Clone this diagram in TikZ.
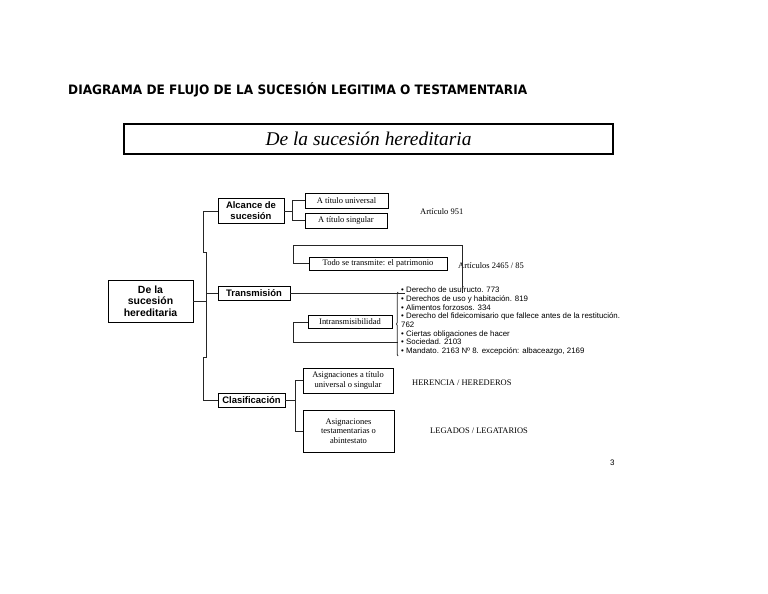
\documentclass[tikz,border=0pt]{standalone}
\usepackage{graphicx}
\usepackage{fontspec}
\setmainfont{Liberation Serif}
\setsansfont{Liberation Sans}
\newfontfamily\headfont{DejaVu Sans}
\usetikzlibrary{decorations.pathreplacing}

\tikzset{
 box/.style={draw,line width=0.9pt,inner sep=1pt,align=center},
 bbox/.style={box,font=\sffamily\bfseries\fontsize{9.5}{11}\selectfont},
 sbox/.style={box,font=\fontsize{8.5}{9.5}\selectfont},
 link/.style={line width=0.8pt,black!85},
 note/.style={anchor=west,inner sep=0pt,font=\fontsize{8.5}{10}\selectfont},
}

\begin{document}
\begin{tikzpicture}[x=1bp,y=-1bp]
 \useasboundingbox (0,0) rectangle (768,594);
 % titles
 \node[anchor=west,inner sep=0pt] (title) at (68,90) {\headfont\bfseries\fontsize{13}{15}\selectfont\resizebox{459bp}{\height}{DIAGRAMA DE FLUJO DE LA SUCESIÓN LEGITIMA O TESTAMENTARIA}};
 \node[draw,line width=2.6bp,minimum width=489bp,minimum height=30bp,inner sep=0pt,font=\itshape\fontsize{19.5}{21}\selectfont] (head) at (368.5,139) {De la sucesión hereditaria};
 % first and second level
 \node[bbox,minimum width=85bp,minimum height=42bp,font=\sffamily\bfseries\fontsize{10.5}{11.5}\selectfont] (root) at (150.5,301) {De la\\sucesión\\hereditaria};
 \node[bbox,minimum width=66bp,minimum height=25bp] (alcance) at (251,211) {Alcance de\\sucesión};
 \node[bbox,minimum width=72bp,minimum height=14bp] (transm) at (254,293) {Transmisión};
 \node[bbox,minimum width=67bp,minimum height=14bp] (clasif) at (251.5,400) {Clasificación};
 % third level
 \node[sbox,minimum width=83bp,minimum height=15bp] (univ) at (346.5,200.5) {A título universal};
 \node[sbox,minimum width=82bp,minimum height=15bp] (sing) at (346,220.5) {A título singular};
 \node[sbox,minimum width=138bp,minimum height=13bp] (todo) at (378,263.5) {Todo se transmite: el patrimonio};
 \node[sbox,minimum width=84bp,minimum height=13bp] (intrans) at (350,322) {Intransmisibilidad};
 \node[sbox,minimum width=90bp,minimum height=25bp] (asigU) at (348,380.5) {Asignaciones a título\\universal o singular};
 \node[sbox,minimum width=91bp,minimum height=42bp] (asigT) at (348.5,431) {Asignaciones\\testamentarias o\\abintestato};
 % notes
 \node[note] (art951) at (420,212) {Artículo 951};
 \node[note] (art2465) at (458,266) {Artículos 2465 / 85};
 \node[note] (heren) at (412,383) {HERENCIA / HEREDEROS};
 \node[note] (legad) at (430,431) {LEGADOS / LEGATARIOS};
 \node[anchor=north west,inner sep=0pt,align=left,font=\sffamily\fontsize{7.9}{8.7}\selectfont] (lista) at (401,287) {%
  • Derecho de usufructo. 773\\
  • Derechos de uso y habitación. 819\\
  • Alimentos forzosos. 334\\
  • Derecho del fideicomisario que fallece antes de la restitución.\\
  762\\
  • Ciertas obligaciones de hacer\\
  • Sociedad. 2103\\
  • Mandato. 2163 Nº 8. excepción: albaceazgo, 2169};
 \node[note,font=\sffamily\fontsize{8}{9}\selectfont] (pagina) at (610,463) {3};
 % trunk
 \draw[link] (alcance.west) -- (203,211) -- (203,252) -- (206,252) -- (206,357) -- (203,357) |- (clasif.west);
 \draw[link] (root.east) -- ++(13,0);
 \draw[link] (transm.west) -- ++(-12,0);
 \draw[link] (transm.east) -- ++(115,0);
 % branches
 \draw[link] (alcance.east) -- ++(8,0) coordinate (af);
 \draw[link] (univ.west) -| (af) |- (sing.west);
 \draw[link] (clasif.east) -- ++(10,0) coordinate (cf);
 \draw[link] (asigU.west) -| (cf) |- (asigT.west);
 \draw[link] (todo.west) -| (293,245) -| (462,293);
 \draw[link] (intrans.west) -| (293,342) -- (398,342);
 \draw[link,decorate,decoration={brace,amplitude=1.5pt}] (398,356) -- (398,292);
\end{tikzpicture}
\end{document}
